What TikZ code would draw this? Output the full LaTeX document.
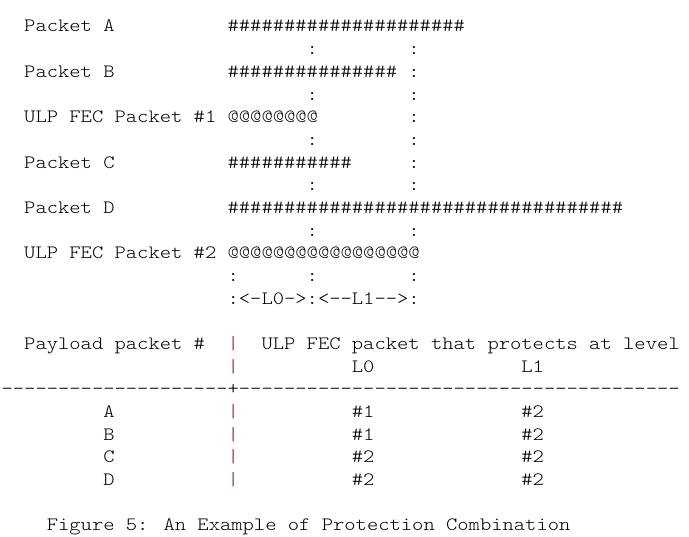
\documentclass[tikz,border=0pt]{standalone}
\usepackage{fontspec}
\newfontfamily\mono[Extension=.otf, Ligatures=ResetAll, FakeStretch=1.142]{lmmonolt10-regular}
\definecolor{textoNegro}{HTML}{000000}
\definecolor{barraRoja}{HTML}{8E2433}
\begin{document}
\begin{tikzpicture}[
  x=11.3pt, y=-22.68pt,
  txt/.style={font=\mono\fontsize{18.85}{22}\selectfont, text=textoNegro, inner sep=0pt, anchor=base west},
  barra/.style={txt, text=barraRoja},
]
  % Marco de la figura
  \useasboundingbox (-24pt,32pt) rectangle (665pt,-505pt);

  % Paquetes de datos y paquetes FEC
  \node[txt] (pA)   at (0,0)  {Packet A};
  \node[txt] (pAd)  at (18,0) {\#\#\#\#\#\#\#\#\#\#\#\#\#\#\#\#\#\#\#\#\#};
  \node[txt] (pB)   at (0,2)  {Packet B};
  \node[txt] (pBd)  at (18,2) {\#\#\#\#\#\#\#\#\#\#\#\#\#\#\#};
  \node[txt] (fec1) at (0,4)  {ULP FEC Packet \#1};
  \node[txt] (fec1d) at (18,4) {@@@@@@@@};
  \node[txt] (pC)   at (0,6)  {Packet C};
  \node[txt] (pCd)  at (18,6) {\#\#\#\#\#\#\#\#\#\#\#};
  \node[txt] (pD)   at (0,8)  {Packet D};
  \node[txt] (pDd)  at (18,8) {\#\#\#\#\#\#\#\#\#\#\#\#\#\#\#\#\#\#\#\#\#\#\#\#\#\#\#\#\#\#\#\#\#\#\#};
  \node[txt] (fec2) at (0,10) {ULP FEC Packet \#2};
  \node[txt] (fec2d) at (18,10) {@@@@@@@@@@@@@@@@@};

  % Separadores de niveles
  \foreach \r in {1,3,5,7,9} {
    \node[txt] (dpa\r) at (25,\r) {:};
    \node[txt] (dpb\r) at (34,\r) {:};
  }
  \foreach \r in {2,4,6}
    \node[txt] (dpb\r) at (34,\r) {:};
  \foreach \c in {18,25,34}
    \node[txt] (dpc\c) at (\c,11) {:};
  \node[txt] (niveles) at (18,12) {:<-L0->:<--L1-->:};

  % Tabla de proteccion
  \node[txt]   (cabA)  at (0,14)  {Payload packet \#};
  \node[barra] (barA)  at (18,14) {|};
  \node[txt]   (cabB)  at (21,14) {ULP FEC packet that protects at level};
  \node[barra] (barB)  at (18,15) {|};
  \node[txt]   (cabL0) at (29,15) {L0};
  \node[txt]   (cabL1) at (44,15) {L1};
  \node[txt]   (rayaA) at (-2,16) {--------------------+---------------------------------------};
  \foreach \pkt/\fa/\fb [count=\r from 17] in {A/1/2, B/1/2, C/2/2, D/2/2} {
    \node[txt]   (fila\pkt) at (7,\r)  {\pkt};
    \node[barra] (bar\pkt)  at (18,\r) {|};
    \node[txt]   (ni\pkt)   at (29,\r) {\#\fa};
    \node[txt]   (nj\pkt)   at (44,\r) {\#\fb};
  }

  % Pie de figura
  \node[txt] (pie) at (2,22) {Figure 5: An Example of Protection Combination};
\end{tikzpicture}
\end{document}
